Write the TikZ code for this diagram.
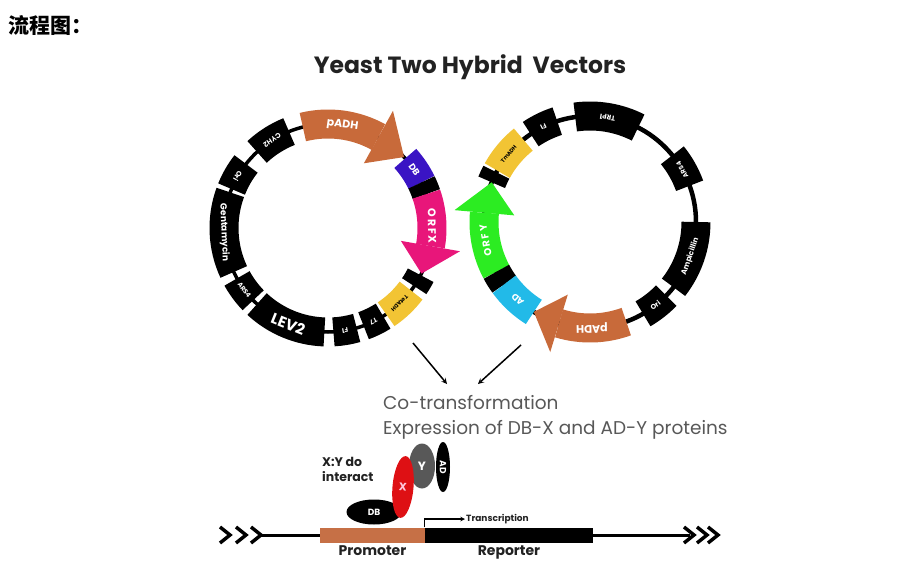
\documentclass[tikz,border=0pt]{standalone}
\usepackage{fontspec}
\setmainfont{Poppins}
\newfontfamily\cjk{Noto Sans CJK SC}
\usepackage{tikz}
\usetikzlibrary{calc}
\usetikzlibrary{shapes.geometric, arrows, positioning}
\definecolor{padh}{RGB}{200,106,58}
\definecolor{dbblue}{RGB}{58,20,196}
\definecolor{orfx}{RGB}{232,22,122}
\definecolor{tadh}{RGB}{242,196,52}
\definecolor{orfy}{RGB}{44,236,34}
\definecolor{adcyan}{RGB}{34,186,232}
\definecolor{promo}{RGB}{198,112,70}
\definecolor{xred}{RGB}{222,16,20}
\definecolor{ygray}{RGB}{88,88,88}
\definecolor{ink}{RGB}{34,34,34}
\newcommand{\fs}[1]{\fontsize{#1}{#1}\selectfont}
\tikzstyle{ring} = [draw=black, line width=3.5]
\tikzstyle{bandline} = [line width=29, line cap=butt]
\tikzstyle{plabel} = [text=white, font=\bfseries, inner sep=0]
\tikzstyle{bar} = [rectangle, inner sep=0, minimum height=15]
\tikzstyle{gene} = [text=ink, font=\bfseries\fs{14}, inner sep=1]
\tikzstyle{blob} = [ellipse, inner sep=0, text=white, font=\bfseries\fs{9}]
\tikzstyle{chev} = [line width=3.5, line join=miter]
\tikzstyle{dnaline} = [line width=3]
\tikzstyle{pointer} = [line width=1.5,->,>=stealth]
\tikzstyle{txarrow} = [line width=1.1,->,>=stealth]
% one coloured piece of a plasmid
\newcommand{\band}[4]{%
  \draw[bandline, #4] ($(#1)+(#2:\rr)$) arc[start angle=#2, end angle=#3, radius=\rr];}
% head of an arrow piece
\newcommand{\bandhead}[4]{%
  \pgfmathsetmacro{\rlo}{\rr-30}\pgfmathsetmacro{\rhi}{\rr+30}%
  \fill[#4] ($(#1)+(#2:\rlo)$) -- ($(#1)+(#2:\rhi)$) -- ($(#1)+(#3:\rr)$) -- cycle;}
\begin{document}
\begin{tikzpicture}[x=1pt,y=1pt]
\useasboundingbox (0,0) rectangle (922,-578);
\node (heading) [anchor=west, font=\cjk\bfseries\fs{21}] at (5,-25) {流程图：};
\node (title) [text=ink, font=\bfseries\fs{23.5}] at (470,-67) {Yeast Two Hybrid\ \ Vectors};

% left vector
\coordinate (L) at (328,-228);
\def\rr{104}
\draw[ring] (L) circle[radius=\rr];
\band{L}{104}{61}{padh}
\bandhead{L}{61}{43}{padh}
\band{L}{42}{26}{dbblue}
\band{L}{26}{19}{black}
\band{L}{19}{-10}{orfx}
\bandhead{L}{-10}{-26}{orfx}
\band{L}{-27}{-34}{black}
\band{L}{-37}{-56}{tadh}
\band{L}{-58}{-70}{black}
\band{L}{-74}{-87}{black}
\band{L}{-92}{-133}{black}
\band{L}{-136}{-151}{black}
\band{L}{160}{205}{black}
\band{L}{142}{158}{black}
\band{L}{112}{133}{black}
\node (lpadh) [plabel, font=\bfseries\fs{11}, rotate=-8] at ($(L)+(82:\rr)$) {pADH};
\node (ldb) [plabel, font=\bfseries\fs{9}, rotate=-56] at ($(L)+(34:\rr)$) {DB};
\node (lorf) [plabel, font=\bfseries\fs{11}, rotate=-89] at ($(L)+(1:\rr)$) {O\,R\,F\,X};
\node (ltet) [plabel, text=black, font=\bfseries\fs{5.5}, rotate=-136] at ($(L)+(-46.5:\rr)$) {TetADH};
\node (lt7) [plabel, font=\bfseries\fs{6.5}, rotate=-154] at ($(L)+(-64:\rr)$) {T7};
\node (lf1) [plabel, font=\bfseries\fs{6.5}, rotate=-170] at ($(L)+(-80.5:\rr)$) {F1};
\node (lev) [plabel, font=\bfseries\fs{15}, rotate=-22] at ($(L)+(-112.5:\rr)$) {LEV2};
\node (lars) [plabel, font=\bfseries\fs{6.5}, rotate=-53.5] at ($(L)+(-143.5:\rr)$) {ARS4};
\node (lgen) [plabel, font=\bfseries\fs{9}, rotate=-87.5] at ($(L)+(182.5:\rr)$) {Gentamycin};
\node (lori) [plabel, font=\bfseries\fs{7}, rotate=240] at ($(L)+(150:\rr)$) {Ori};
\node (lcyh) [plabel, font=\bfseries\fs{7}, rotate=212.5] at ($(L)+(122.5:\rr)$) {CYH2};

% right vector
\coordinate (R) at (590,-222);
\def\rr{106}
\draw[ring, line width=4.5] (R) circle[radius=\rr];
\band{R}{98}{63}{black}
\band{R}{124}{108}{black}
\band{R}{151}{129}{tadh}
\band{R}{158}{152}{black}
\band{R}{208}{175}{orfy}
\bandhead{R}{175}{158}{orfy}
\band{R}{216}{208}{black}
\band{R}{238}{216}{adcyan}
\band{R}{290}{253}{padh}
\bandhead{R}{253}{238}{padh}
\band{R}{316}{300}{black}
\band{R}{0}{-38}{black}
\band{R}{39}{20}{black}
\node (rtrp) [plabel, font=\bfseries\fs{7}, rotate=170.5] at ($(R)+(80.5:\rr)$) {TRP1};
\node (rf1) [plabel, font=\bfseries\fs{6.5}, rotate=206] at ($(R)+(116:\rr)$) {F1};
\node (rtm) [plabel, text=black, font=\bfseries\fs{5.5}, rotate=50] at ($(R)+(140:\rr)$) {TmADH};
\node (rorf) [plabel, font=\bfseries\fs{10}, rotate=100] at ($(R)+(190:\rr)$) {O\,R\,F\ Y};
\node (rad) [plabel, font=\bfseries\fs{9}, rotate=137] at ($(R)+(227:\rr)$) {AD};
\node (rpadh) [plabel, font=\bfseries\fs{11}, rotate=181] at ($(R)+(271:\rr)$) {pADH};
\node (rori) [plabel, font=\bfseries\fs{7}, rotate=38] at ($(R)+(308:\rr)$) {Ori};
\node (ramp) [plabel, font=\bfseries\fs{7.5}, rotate=71] at ($(R)+(-19:\rr)$) {Ampicillin};
\node (rars) [plabel, font=\bfseries\fs{6.5}, rotate=119.5] at ($(R)+(29.5:\rr)$) {ARS4};

% co-transformation
\node (cotrans) [anchor=base west, text=ygray, font=\fs{18.5}, inner sep=0] at (383,-409) {Co-transformation};
\node (express) [anchor=base west, text=ygray, font=\fs{18.5}, inner sep=0] at (383,-434) {Expression of DB-X and AD-Y proteins};
\coordinate (lstart) at (413,-343);
\coordinate (lstop) at (447,-384);
\coordinate (rstart) at (521,-345);
\coordinate (rstop) at (478,-384);
\draw[pointer] (lstart) -- (lstop);
\draw[pointer] (rstart) -- (rstop);

% reporter construct
\node (promoter) [bar, fill=promo, minimum width=105] at (372.5,-535) {};
\node (reporter) [bar, fill=black, minimum width=168] at (509,-535) {};
\node (promlabel) [gene, below=2pt of promoter] {Promoter};
\node (replabel) [gene, below=2pt of reporter] {Reporter};
\coordinate (lend) at (261,-535);
\coordinate (rend) at (690,-535);
\draw[dnaline] (lend) -- (promoter.west);
\draw[dnaline] (reporter.east) -- (rend);
\foreach \x in {220,236,251}
  \draw[chev] (\x,-527) -- (\x+10,-535) -- (\x,-543);
\foreach \x in {684,697,708}
  \draw[chev] (\x,-527) -- (\x+10,-535) -- (\x,-543);
\node (tx) [anchor=west, text=ink, font=\bfseries\fs{9}, inner sep=1] at (465,-519) {Transcription};
\draw[txarrow] (reporter.north west) |- (tx.west);

\node (db) [blob, fill=black, minimum width=55, minimum height=25] at (374,-512) {DB};
\node (ad) [blob, fill=black, minimum width=50, minimum height=14, rotate=-90] at (443,-467) {AD};
\node (y) [blob, fill=ygray, minimum width=26, minimum height=45, font=\bfseries\fs{12}] at (422,-466) {Y};
\node (x) [blob, fill=xred, minimum width=21, minimum height=62, rotate=-5, text={rgb,255:red,255;green,200;blue,220}, font=\bfseries\fs{11}] at (403,-487) {X};
\node (interact) [anchor=north west, align=left, text=ink, font=\bfseries\fs{12.5}, inner sep=0] at (322,-457) {X:Y do\\[3pt]interact};
\end{tikzpicture}
\end{document}
